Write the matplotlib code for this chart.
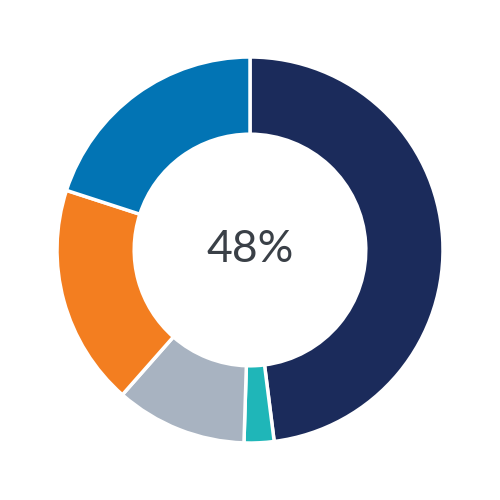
import matplotlib
matplotlib.use("Agg")
import matplotlib.pyplot as plt

labels = ["Navy", "Teal", "Gray", "Orange", "Blue"]
values = [48, 2.5, 11, 18.5, 20]
colors = ["#1b2b5b", "#1fb6b8", "#a8b3c1", "#f37e20", "#0274b4"]
center_text = "48%"

fig = plt.figure(figsize=(5, 5), dpi=100)
ax = fig.add_axes([0, 0, 1, 1])
ax.pie(values, colors=colors, startangle=90, counterclock=False,
       radius=1.0, wedgeprops=dict(width=0.40, edgecolor="white", linewidth=2.5))
ax.text(0, 0.0, center_text, ha="center", va="center", fontsize=32,
        color="#3a4047", family=["Lato", "DejaVu Sans"], fontweight="normal")
lim = 250 / 193
ax.set_xlim(-lim, lim)
ax.set_ylim(-lim, lim)
ax.set_aspect("equal")
ax.axis("off")
fig.savefig("out.png", dpi=100, facecolor="white")
